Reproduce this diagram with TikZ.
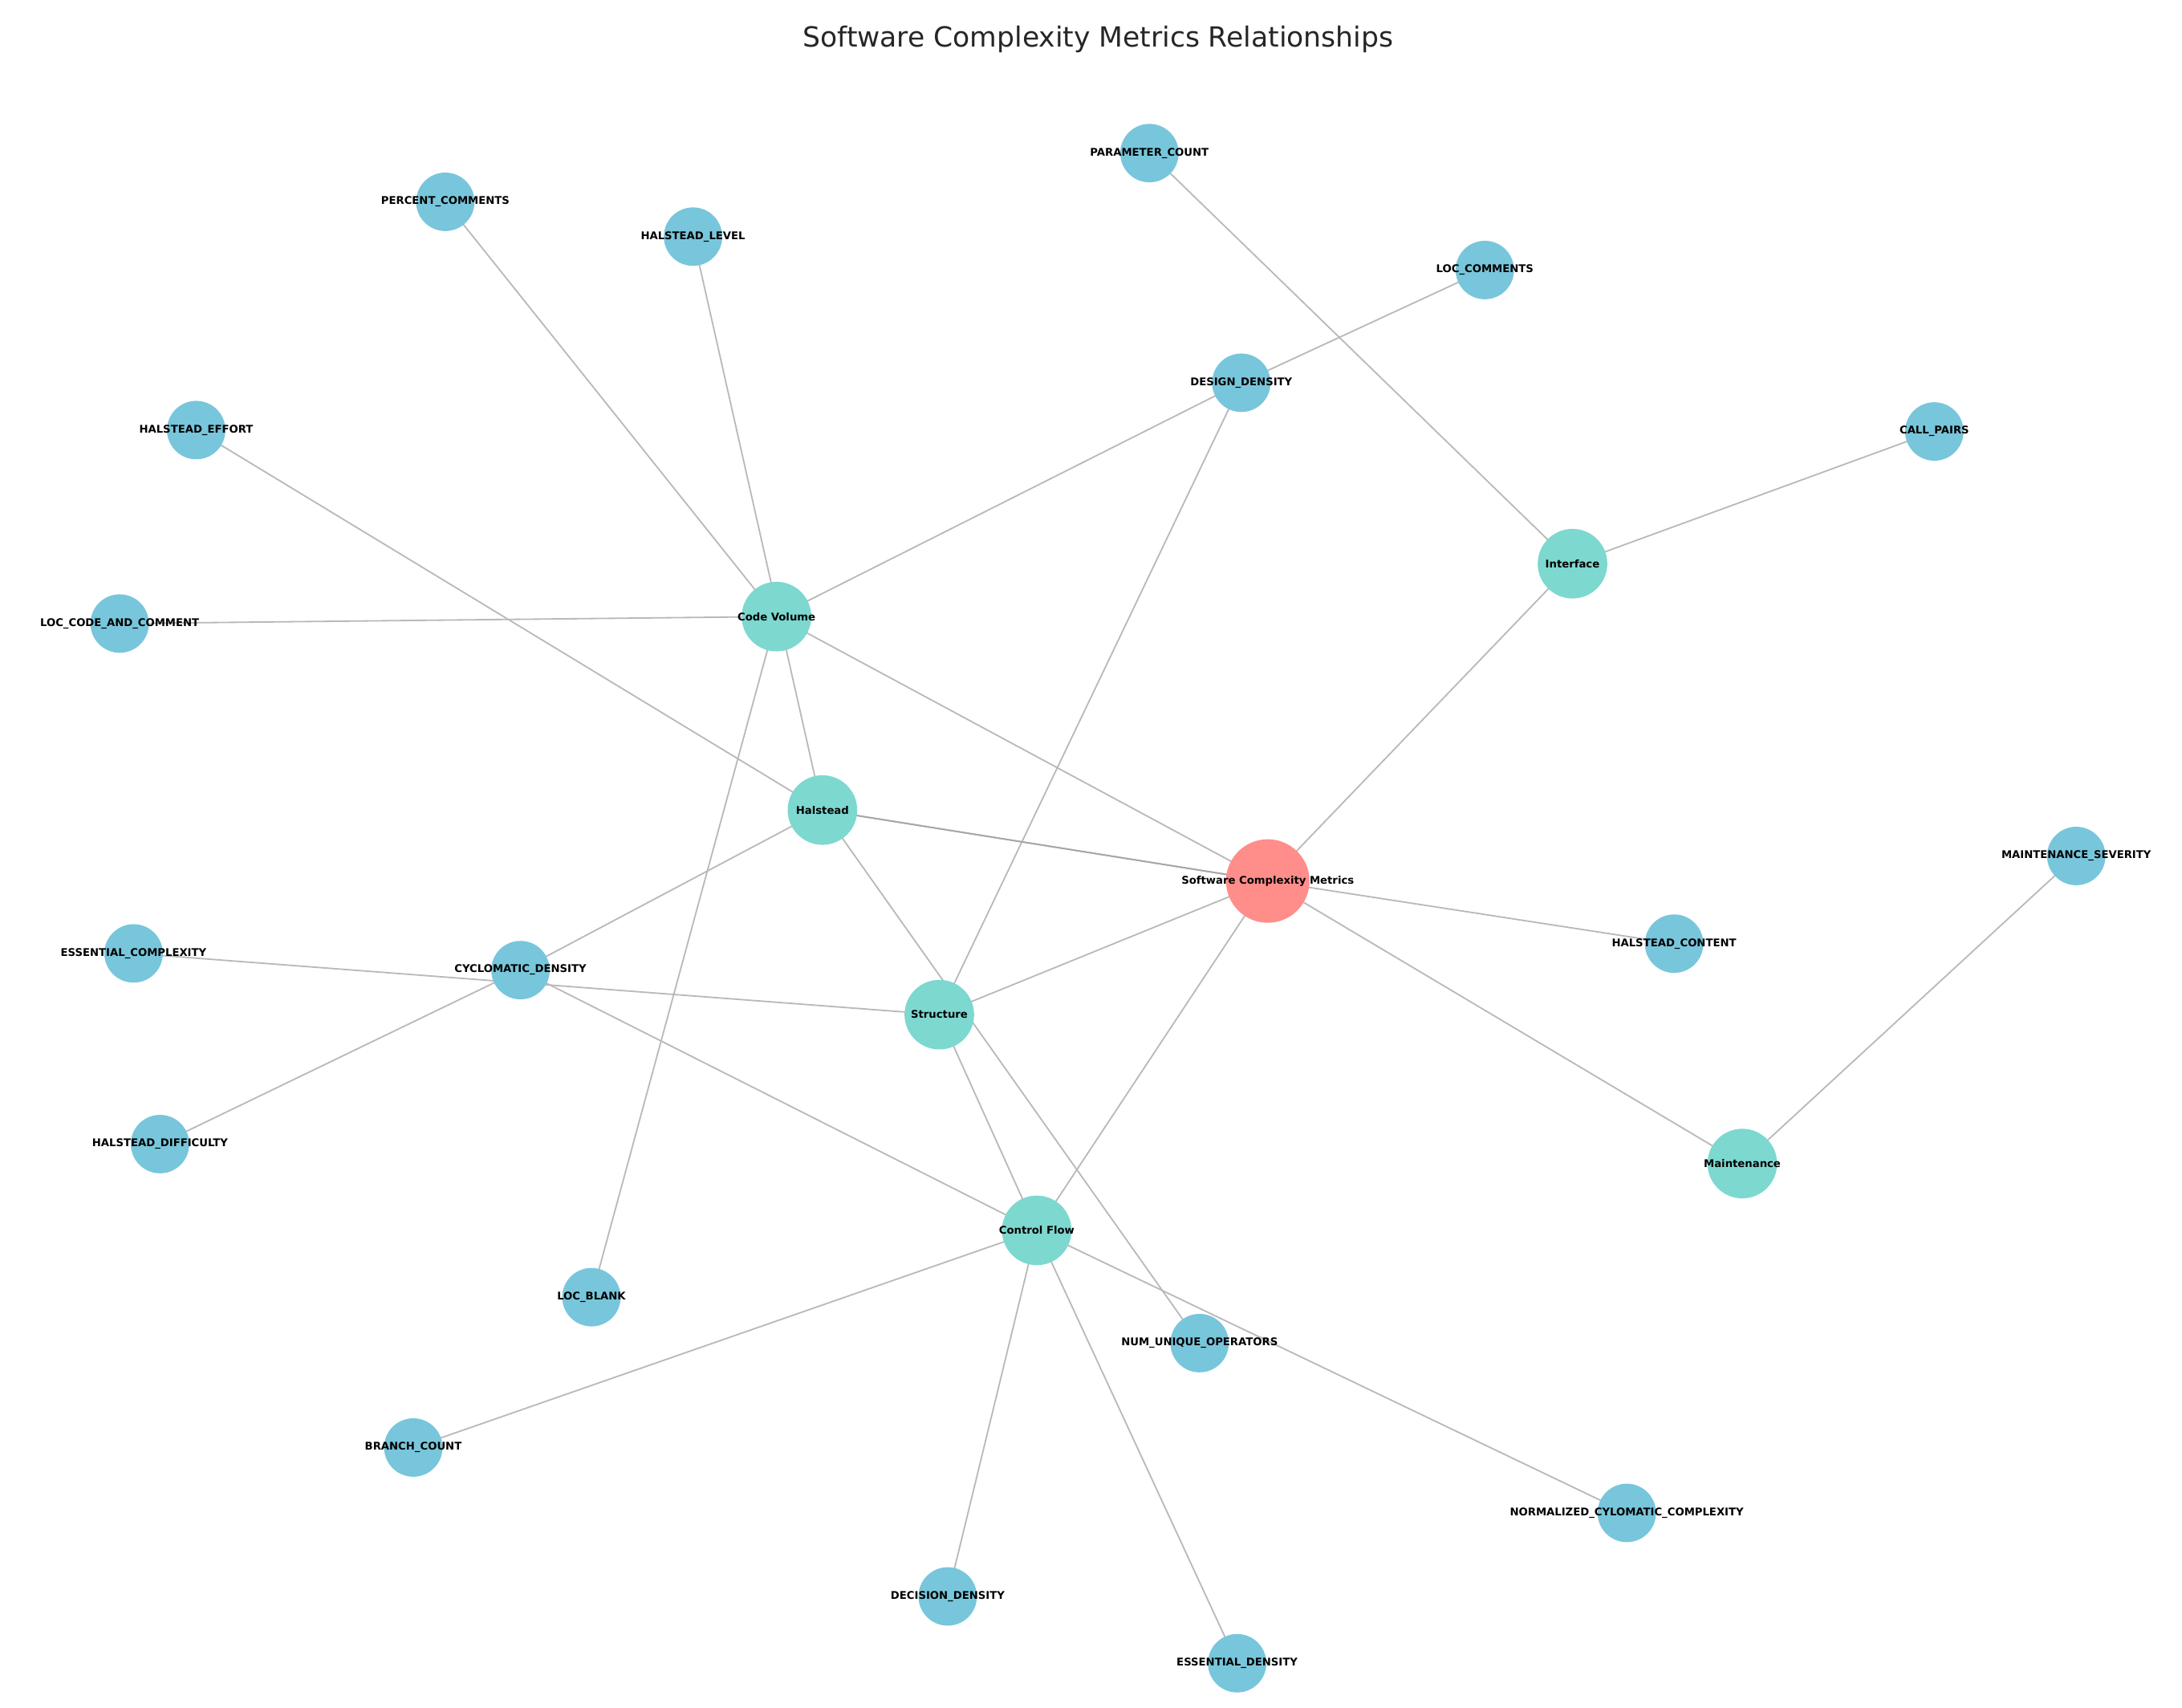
\documentclass[tikz,border=0pt]{standalone}
\usepackage{fontspec}
\setmainfont{DejaVu Sans}
\definecolor{leaf}{HTML}{78C6DC}
\definecolor{cat}{HTML}{7DD8D0}
\definecolor{root}{HTML}{FF8E8B}
\begin{document}
\begin{tikzpicture}[x=0.03cm,y=-0.03cm,
  lf/.style={circle,fill=leaf,minimum size=1.26cm,inner sep=0pt},
  ct/.style={circle,fill=cat,minimum size=1.5cm,inner sep=0pt},
  rt/.style={circle,fill=root,minimum size=1.8cm,inner sep=0pt},
  lab/.style={font=\bfseries\fontsize{6.5}{7}\selectfont,text=black},
  ed/.style={draw=gray!55,line width=0.9pt}]
\useasboundingbox (0,0) rectangle (1568,1227);
\node[font=\fontsize{17}{20}\selectfont,text=black!85] (title) at (789,28) {Software Complexity Metrics Relationships};
\coordinate (SCM) at (911,633);
\coordinate (CV) at (558,443);
\coordinate (HA) at (591,582);
\coordinate (IN) at (1130,405);
\coordinate (ST) at (675,729);
\coordinate (CF) at (745,884);
\coordinate (MA) at (1252,836);
\coordinate (HC) at (1203,678);
\coordinate (PC) at (320,145);
\coordinate (DD) at (892,275);
\coordinate (LCC) at (86,448);
\coordinate (LB) at (425,932);
\coordinate (HL) at (498,170);
\coordinate (HE) at (141,309);
\coordinate (CD) at (374,697);
\coordinate (EC) at (96,685);
\coordinate (HD) at (115,822);
\coordinate (LC) at (1067,194);
\coordinate (PAR) at (826,110);
\coordinate (CP) at (1390,310);
\coordinate (MS) at (1492,615);
\coordinate (BC) at (297,1040);
\coordinate (DE) at (681,1147);
\coordinate (ED) at (889,1195);
\coordinate (NC) at (1169,1087);
\coordinate (NU) at (862,965);
\foreach \a/\b in {SCM/CV,SCM/HA,SCM/IN,SCM/ST,SCM/CF,SCM/MA,SCM/HC,CV/PC,CV/DD,CV/LCC,CV/LB,HL/HA,HE/HA,HA/CD,EC/ST,CD/HD,CD/CF,ST/DD,DD/LC,PAR/IN,IN/CP,MA/MS,ST/CF,CF/BC,CF/DE,CF/ED,CF/NC,HA/NU}
  \draw[ed] (\a) -- (\b);
\draw[ed,draw=gray!70] (SCM) -- (HA);
\foreach \c/\t in {PC/PERCENT\_COMMENTS,DD/DESIGN\_DENSITY,LCC/LOC\_CODE\_AND\_COMMENT,LB/LOC\_BLANK,HL/HALSTEAD\_LEVEL,HE/HALSTEAD\_EFFORT,CD/CYCLOMATIC\_DENSITY,EC/ESSENTIAL\_COMPLEXITY,HD/HALSTEAD\_DIFFICULTY,LC/LOC\_COMMENTS,PAR/PARAMETER\_COUNT,CP/CALL\_PAIRS,MS/MAINTENANCE\_SEVERITY,BC/BRANCH\_COUNT,DE/DECISION\_DENSITY,ED/ESSENTIAL\_DENSITY,NC/NORMALIZED\_CYLOMATIC\_COMPLEXITY,NU/NUM\_UNIQUE\_OPERATORS,HC/HALSTEAD\_CONTENT}
  \node[lf] (n\c) at (\c) {};
\foreach \c in {CV,HA,IN,ST,CF,MA}
  \node[ct] (n\c) at (\c) {};
\node[rt] (nSCM) at (SCM) {};
\foreach \c/\t in {PC/PERCENT\_COMMENTS,DD/DESIGN\_DENSITY,LCC/LOC\_CODE\_AND\_COMMENT,LB/LOC\_BLANK,HL/HALSTEAD\_LEVEL,HE/HALSTEAD\_EFFORT,CD/CYCLOMATIC\_DENSITY,EC/ESSENTIAL\_COMPLEXITY,HD/HALSTEAD\_DIFFICULTY,LC/LOC\_COMMENTS,PAR/PARAMETER\_COUNT,CP/CALL\_PAIRS,MS/MAINTENANCE\_SEVERITY,BC/BRANCH\_COUNT,DE/DECISION\_DENSITY,ED/ESSENTIAL\_DENSITY,NC/NORMALIZED\_CYLOMATIC\_COMPLEXITY,NU/NUM\_UNIQUE\_OPERATORS,HC/HALSTEAD\_CONTENT,CV/Code Volume,HA/Halstead,IN/Interface,ST/Structure,CF/Control Flow,MA/Maintenance,SCM/Software Complexity Metrics}
  \node[lab] (t\c) at (\c) {\t};
\end{tikzpicture}
\end{document}
